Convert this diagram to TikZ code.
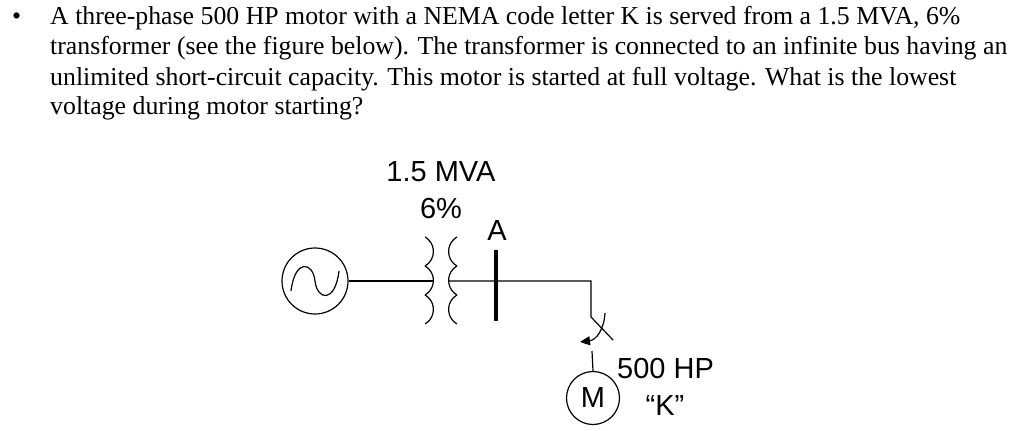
\documentclass[tikz,border=0pt]{standalone}
\usepackage{fontspec}
\setmainfont{Liberation Serif}
\newfontfamily\lsans{Liberation Sans}
\usetikzlibrary{arrows.meta}
\begin{document}
\begin{tikzpicture}[x=1pt,y=-1pt,
  txt/.style={anchor=base west,inner sep=0pt,font=\fontsize{25.8}{28}\selectfont},
  lab/.style={inner sep=0pt,font=\lsans\fontsize{29}{32}\selectfont},
  wire/.style={line width=1.2pt},
  circ/.style={circle,draw,line width=1.2pt,inner sep=0pt}]
\useasboundingbox (0,0) rectangle (1020,431);
\node[txt] (b) at (12,24) {•};
\node[txt] (l1) at (50,24) {A three-phase 500 HP motor with a NEMA code letter K is served from a 1.5 MVA, 6\%};
\node[txt] (l2) at (50,54) {transformer (see the figure below). The transformer is connected to an infinite bus having an};
\node[txt] (l3) at (50,85) {unlimited short-circuit capacity. This motor is started at full voltage. What is the lowest};
\node[txt] (l4) at (50,114) {voltage during motor starting?};
% source
\node[circ,minimum size=66pt] (src) at (315,281) {};
\draw[wire] (291,291) .. controls (295,258) and (313,262) .. (315,281) .. controls (317,300) and (335,304) .. (339,271);
% transformer coils
\foreach \k in {0,1,2}{
  \draw[wire] (425,266+29*\k) arc[start angle=60,end angle=-60,radius=16.8];
  \draw[wire] (457,266+29*\k) arc[start angle=120,end angle=240,radius=16.8];
}
\coordinate (tp) at (433,281);
\coordinate (ts) at (449,281);
\draw[wire] (src.east) -- (tp);
% bus
\draw[line width=4pt] (496,250) -- (496,321);
\coordinate (c1) at (591,281);
\coordinate (s1) at (591,317);
\draw[wire] (ts) -- (c1) -- (s1) -- (613,340);
% switch arc with arrow
\draw[wire,-{Triangle[length=10pt,width=9pt]}] (605,313) .. controls (604,330) and (596,340) .. (580,342);
\coordinate (s2) at (592,351);
\node[circ,minimum size=53pt] (mot) at (593,398) {};
\node[lab] at (mot) {M};
\draw[wire] (s2) -- (mot.north);
% labels
\node[lab,anchor=base] (t1) at (441,181) {1.5 MVA};
\node[lab,anchor=base] (t2) at (441,218) {6\%};
\node[lab,anchor=base] (tA) at (497,240) {A};
\node[lab,anchor=base west] (hp) at (617,378) {500 HP};
\node[lab,anchor=base] (kk) at (665,415) {“K”};
\end{tikzpicture}
\end{document}
